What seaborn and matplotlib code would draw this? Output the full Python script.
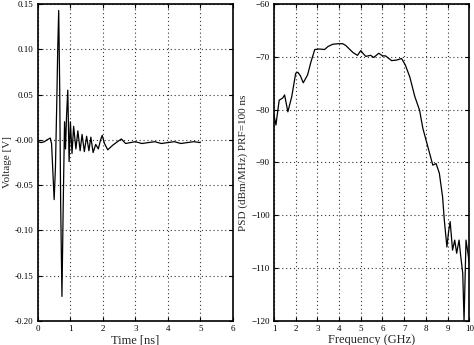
import numpy as np
import pandas as pd
import matplotlib
matplotlib.use("Agg")
import matplotlib.pyplot as plt
import seaborn as sns
from matplotlib.ticker import FormatStrFormatter

# Received pulse waveform (time in ns, voltage in V)
time_ns = [0.00, 0.10, 0.20, 0.28, 0.33, 0.38, 0.42, 0.46, 0.50, 0.54, 0.58,
           0.61, 0.64, 0.67, 0.70, 0.74, 0.78, 0.82, 0.85, 0.88, 0.92, 0.96,
           1.00, 1.05, 1.10, 1.17, 1.23, 1.30, 1.36, 1.43, 1.50, 1.57, 1.63,
           1.70, 1.78, 1.86, 1.93, 1.98, 2.05, 2.15, 2.30, 2.45, 2.57, 2.70,
           2.85, 3.00, 3.20, 3.40, 3.60, 3.80, 4.00, 4.20, 4.40, 4.60, 4.80,
           5.00]
voltage_v = [-0.002, -0.003, -0.002, 0.000, 0.001, 0.002, -0.004, -0.035, -0.066, -0.030, 0.040,
             0.100, 0.143, 0.060, -0.070, -0.173, -0.070, 0.020, -0.010, 0.025, 0.055, -0.024,
             0.020, -0.015, 0.015, -0.010, 0.010, -0.012, 0.006, -0.013, 0.004, -0.012, 0.003,
             -0.014, -0.005, -0.010, 0.000, 0.005, -0.004, -0.011, -0.006, -0.002, 0.001, -0.004,
             -0.003, -0.002, -0.004, -0.003, -0.002, -0.004, -0.003, -0.002, -0.004, -0.003, -0.002,
             -0.003]

# Power spectral density (frequency in GHz, PSD in dBm/MHz)
freq_ghz = [1.00, 1.09, 1.24, 1.40, 1.49, 1.64, 1.82, 2.00, 2.10, 2.22, 2.35,
            2.55, 2.70, 2.88, 3.10, 3.33, 3.50, 3.71, 3.95, 4.17, 4.30, 4.45,
            4.65, 4.85, 5.00, 5.12, 5.23, 5.45, 5.60, 5.83, 6.00, 6.14, 6.42,
            6.65, 6.88, 7.05, 7.26, 7.49, 7.71, 7.86, 8.09, 8.32, 8.47, 8.62,
            8.77, 8.85, 8.97, 9.05, 9.12, 9.23, 9.33, 9.42, 9.53, 9.60, 9.70,
            9.76, 9.85, 9.94, 10.00]
psd_dbm = [-81.0, -82.9, -78.2, -77.8, -77.2, -80.4, -77.5, -73.1, -72.9, -73.6, -74.9,
           -73.4, -71.0, -68.6, -68.5, -68.6, -68.0, -67.6, -67.5, -67.5, -67.8, -68.4,
           -69.2, -69.7, -68.8, -69.4, -69.9, -69.7, -70.1, -69.3, -69.8, -69.8, -70.7,
           -70.6, -70.3, -71.5, -73.8, -77.5, -80.1, -83.5, -87.0, -90.5, -90.2, -92.0,
           -96.5, -100.9, -106.0, -103.0, -101.2, -106.6, -104.7, -107.2, -104.7, -107.5, -111.0,
           -120.0, -104.7, -107.2, -109.0]

wave = pd.DataFrame({"t": time_ns, "v": voltage_v})
spec = pd.DataFrame({"f": freq_ghz, "p": psd_dbm})

sns.set_theme(style="white")
plt.rcParams["font.family"] = ["Liberation Serif", "DejaVu Serif"]
plt.rcParams["axes.unicode_minus"] = True

fig = plt.figure(figsize=(4.74, 3.45), dpi=100)
ax1 = fig.add_axes([0.080, 0.070, 0.411, 0.918])
ax2 = fig.add_axes([0.578, 0.070, 0.412, 0.918])

sns.lineplot(data=wave, x="t", y="v", ax=ax1, color="black", linewidth=0.9,
             estimator=None, sort=False)
sns.lineplot(data=spec, x="f", y="p", ax=ax2, color="black", linewidth=0.9,
             estimator=None, sort=False)

ax1.set_xlim(0, 6)
ax1.set_ylim(-0.20, 0.15)
ax1.set_xticks(range(0, 7))
ax1.set_yticks(np.arange(-0.20, 0.151, 0.05))
ax1.yaxis.set_major_formatter(FormatStrFormatter("%.2f"))
ax1.set_xlabel("Time [ns]", fontsize=9, labelpad=1)
ax1.set_ylabel("Voltage [V]", fontsize=8, labelpad=2)

ax2.set_xlim(1, 10)
ax2.set_ylim(-120, -60)
ax2.set_xticks(range(1, 11))
ax2.set_yticks(range(-120, -59, 10))
ax2.set_xlabel("Frequency (GHz)", fontsize=9, labelpad=1)
ax2.set_ylabel("PSD (dBm/MHz) PRF=100 ns", fontsize=8, labelpad=2)

for ax in (ax1, ax2):
    ax.grid(True, linestyle=(0, (1, 2.5)), color="black", linewidth=0.8, alpha=0.8)
    ax.tick_params(axis="both", labelsize=6.5, direction="in", length=3,
                   width=0.8, pad=3, colors="black")
    ax.tick_params(axis="both", which="both", top=True, right=True, bottom=True, left=True)
    for s in ax.spines.values():
        s.set_color("black")
        s.set_linewidth(1.2)

fig.savefig("out.png", dpi=100)
